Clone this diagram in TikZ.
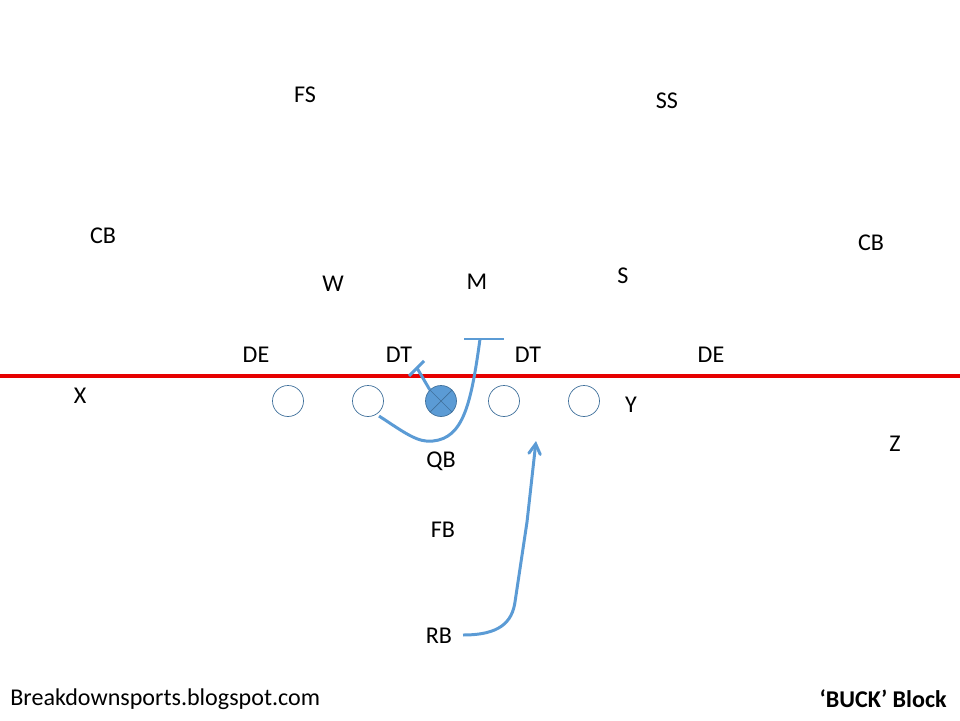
\documentclass[tikz,border=0pt]{standalone}
\usepackage{fontspec}
\setmainfont{Carlito}
\usetikzlibrary{arrows}

\begin{document}
\begin{tikzpicture}[x=0.02cm, y=-0.02cm, >=angle 60]

\definecolor{playblue}{RGB}{91, 155, 213}
\definecolor{rimblue}{RGB}{65, 113, 156}
\definecolor{losred}{RGB}{230, 0, 0}

\useasboundingbox (0,0) rectangle (960,720);

\tikzset{
    player/.style={
        font=\fontsize{13.7}{16}\selectfont, text=black, inner sep=0pt
    },
    lineman/.style={
        draw=rimblue, thin, fill=white,
        circle, minimum size=0.62cm, inner sep=0pt
    },
    route/.style={
        draw=playblue, line width=1.7pt
    }
}

% Line of scrimmage
\coordinate (LW) at (0,376);
\coordinate (LE) at (960,376);
\draw[losred, line width=1.8pt] (LW) -- (LE);

% DEFENSE
\node[player] (FS) at (305,95) {FS};
\node[player] (SS) at (667,101) {SS};
\node[player] (CBL) at (103,236) {CB};
\node[player] (CBR) at (871,243) {CB};
\node[player] (W) at (333,284) {W};
\node[player] (M) at (477,282) {M};
\node[player] (S) at (623,276) {S};
\node[player] (DEL) at (256,355) {DE};
\node[player] (DTL) at (399,355) {DT};
\node[player] (DTR) at (528,355) {DT};
\node[player] (DER) at (711,355) {DE};

% OFFENSE
\node[lineman] (LT) at (288,401) {};
\node[lineman] (LG) at (368,401) {};
\node[lineman, fill=playblue] (C) at (441,401) {};
\node[lineman] (RG) at (504,401) {};
\node[lineman] (RT) at (584,401) {};
\draw[rimblue, thin] (C.north west) -- (C.south east);
\draw[rimblue, thin] (C.north east) -- (C.south west);

\node[player] (X) at (80,396) {X};
\node[player] (Y) at (631,405) {Y};
\node[player] (Z) at (895,444) {Z};
\node[player] (QB) at (441,461) {QB};
\node[player] (FB) at (443,530) {FB};
\node[player] (RB) at (439,636) {RB};

% --- BLOCKS ---

% Center blocks back on the DT
\coordinate (Cblk) at (417,368);
\coordinate (Cbar1) at (409,376);
\coordinate (Cbar2) at (424,361);
\draw[route] (C.north west) -- (Cblk);
\draw[route] (Cbar1) -- (Cbar2);

% Guard pulls round to M
\coordinate (Gpull) at (379,416);
\coordinate (Gbot) at (433,441);
\coordinate (Gblk) at (480,339);
\coordinate (Gbar1) at (464,339);
\coordinate (Gbar2) at (504,339);
\draw[route] (Gpull) .. controls (405,433) and (418,443) .. (Gbot)
    .. controls (463,438) and (471,405) .. (Gblk);
\draw[route] (Gbar1) -- (Gbar2);

% RB path
\coordinate (RBs) at (463,635);
\coordinate (RBt) at (515,602);
\coordinate (RBm) at (527,522);
\coordinate (RBe) at (536,441);
\draw[route, ->] (RBs) .. controls (500,635) and (512,622) .. (RBt) -- (RBm) -- (RBe);

% Footer
\node[player, anchor=west] (blog) at (10,699) {Breakdownsports.blogspot.com};
\node[player, anchor=east, font=\fontsize{13.7}{16}\selectfont\bfseries] (title) at (947,699) {‘BUCK’ Block};

\end{tikzpicture}
\end{document}
